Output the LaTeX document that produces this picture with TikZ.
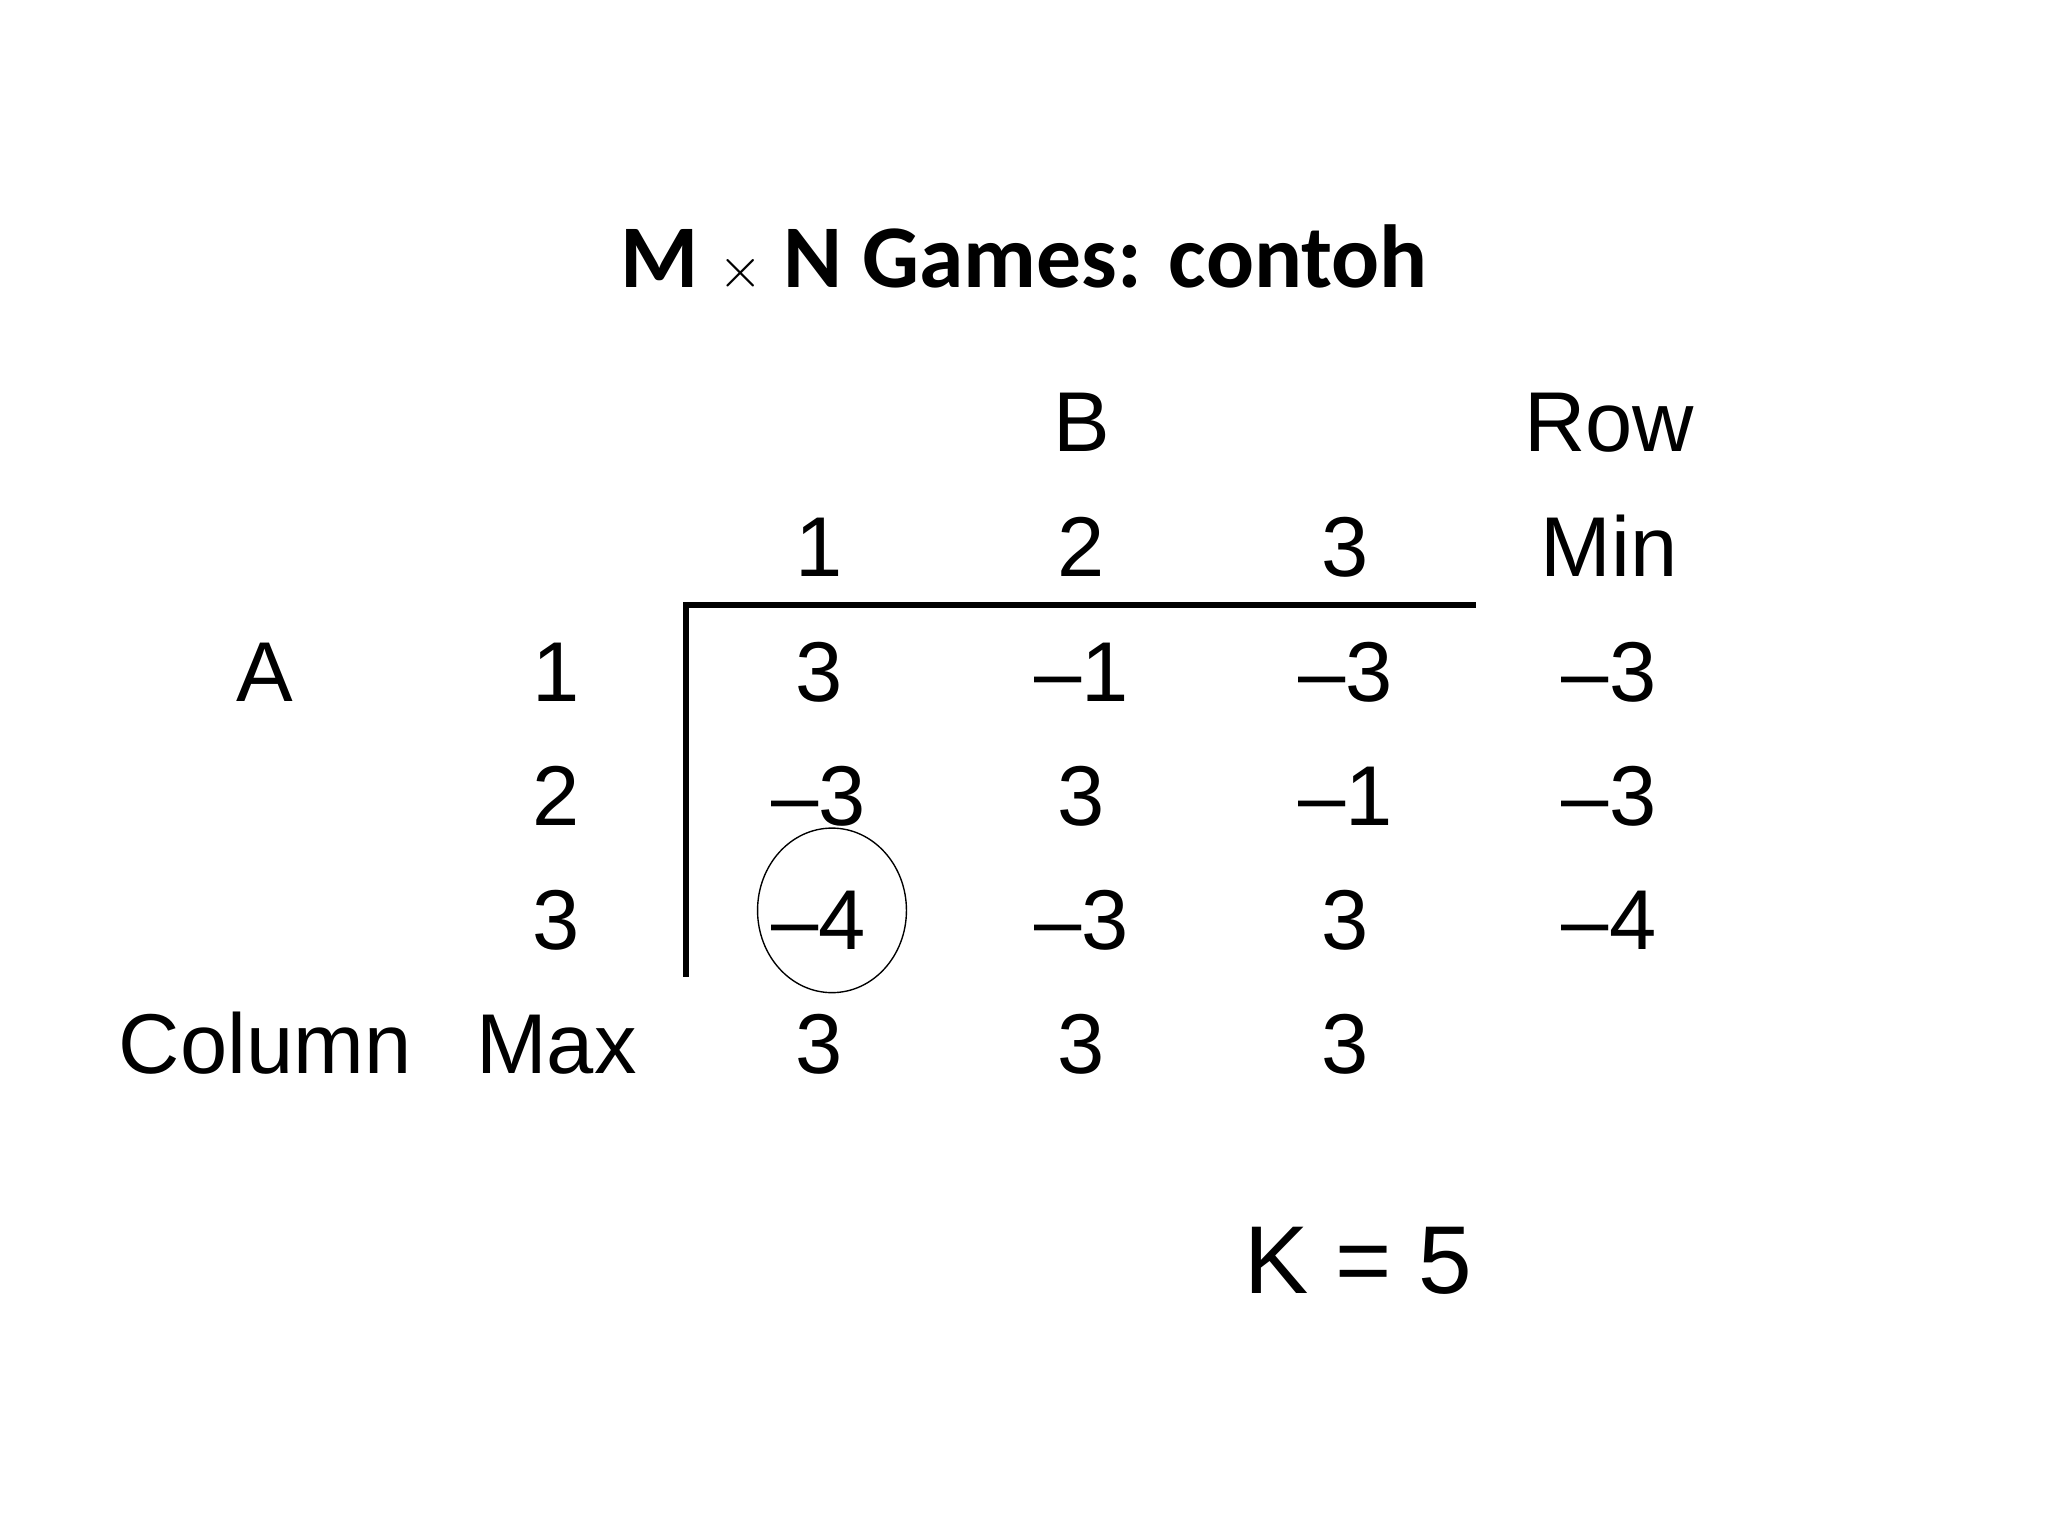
\documentclass[tikz,border=0pt]{standalone}
\usepackage{fontspec}
\setmainfont{Liberation Sans}
\newfontfamily\titlefont{Carlito}
\begin{document}
\begin{tikzpicture}[x=0.02cm,y=-0.02cm,
  cell/.style={anchor=base,inner sep=0pt,font=\fontsize{37}{40}\selectfont}]
\useasboundingbox[fill=white] (0,0) rectangle (1568,1176);
\node[anchor=base,inner sep=0pt,font=\titlefont\bfseries\fontsize{39}{42}\selectfont] (title) at (784,220) {M $\times$ N Games: contoh};
\node[cell] (B) at (828,346) {B};
\node[cell] (Row) at (1232,346) {Row};
\node[cell] (h1) at (627,441) {1};
\node[cell] (h2) at (828,441) {2};
\node[cell] (h3) at (1030,441) {3};
\node[cell] (Min) at (1232,441) {Min};
\node[cell] (A) at (203,537) {A};
\node[cell] (r1) at (426,537) {1};
\node[cell] (a11) at (627,537) {3};
\node[cell] (a12) at (828,537) {–1};
\node[cell] (a13) at (1030,537) {–3};
\node[cell] (m1) at (1232,537) {–3};
\node[cell] (r2) at (426,632) {2};
\node[cell] (a21) at (627,632) {–3};
\node[cell] (a22) at (828,632) {3};
\node[cell] (a23) at (1030,632) {–1};
\node[cell] (m2) at (1232,632) {–3};
\node[cell] (r3) at (426,727) {3};
\node[cell] (a31) at (627,727) {–4};
\node[cell] (a32) at (828,727) {–3};
\node[cell] (a33) at (1030,727) {3};
\node[cell] (m3) at (1232,727) {–4};
\node[cell] (col) at (203,822) {Column};
\node[cell] (max) at (426,822) {Max};
\node[cell] (c1) at (627,822) {3};
\node[cell] (c2) at (828,822) {3};
\node[cell] (c3) at (1030,822) {3};
\node[anchor=base,inner sep=0pt,font=\fontsize{42}{46}\selectfont] (K) at (1040,990) {K = 5};
\coordinate (lt) at (525,463);
\coordinate (rt) at (1130,463);
\coordinate (lb) at (525,748);
\draw[line width=2.8pt] (rt) -- (lt) -- (lb);
\draw[line width=0.6pt] (637,697) ellipse [x radius=57, y radius=63];
\end{tikzpicture}
\end{document}
